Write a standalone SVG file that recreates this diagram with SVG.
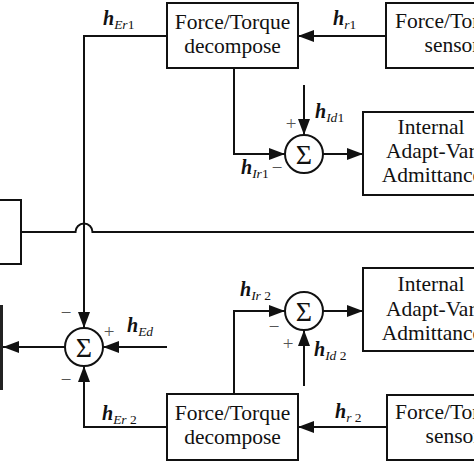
<svg xmlns="http://www.w3.org/2000/svg" width="474" height="474" viewBox="0 0 474 474">
<defs>
<style>
.box{fill:#fff;stroke:#111;stroke-width:2}
.ln{fill:none;stroke:#111;stroke-width:2}
.t{font-family:"Liberation Serif","Times New Roman",serif;font-size:21.5px;fill:#111}
.m{text-anchor:middle}
.sig{font-family:"Liberation Serif","Times New Roman",serif;font-size:28px;fill:#111;text-anchor:middle}
.lbl{font-family:"Liberation Serif","Times New Roman",serif;fill:#111}
.h{font-size:20px;font-weight:bold;font-style:italic}
.s{font-size:13.5px;font-style:italic}
.n{font-size:13.5px}
.pm{font-family:"Liberation Serif","Times New Roman",serif;font-size:19px;fill:#555;text-anchor:middle}
</style>
<marker id="ah" viewBox="0 0 16 12" refX="16" refY="6" markerWidth="16" markerHeight="12" markerUnits="userSpaceOnUse" orient="auto">
<path d="M0,0 L16,6 L0,12 Z" fill="#111"/>
</marker>
</defs>
<rect width="474" height="474" fill="#fff"/>

<g id="connectors">
<path class="ln" d="M167,36 H84 V328" marker-end="url(#ah)"/>
<path class="ln" d="M22,232 H75.5 A8.5,8.5 0 0 1 92.5,232 H474"/>
<path class="ln" d="M386,36 H298" marker-end="url(#ah)"/>
<path class="ln" d="M234,68 V154 H285" marker-end="url(#ah)"/>
<path class="ln" d="M304,85 V135" marker-end="url(#ah)"/>
<path class="ln" d="M323,154 H363" marker-end="url(#ah)"/>
<path class="ln" d="M65,347 H3" marker-end="url(#ah)"/>
<path class="ln" d="M167,347 H103" marker-end="url(#ah)"/>
<path class="ln" d="M167,427 H84 V366" marker-end="url(#ah)"/>
<path class="ln" d="M234,394 V311 H285" marker-end="url(#ah)"/>
<path class="ln" d="M304,386 V330" marker-end="url(#ah)"/>
<path class="ln" d="M323,311 H363" marker-end="url(#ah)"/>
<path class="ln" d="M387,427 H298" marker-end="url(#ah)"/>
</g>

<g id="left-box-top"><rect class="box" x="-10" y="200" width="31" height="64"/></g>
<g id="left-box-bottom"><rect x="0" y="305" width="3" height="85" fill="#222"/></g>

<g id="decompose1">
<rect class="box" x="167" y="3" width="131" height="65"/>
<text class="t m" x="232.5" y="29">Force/Torque</text>
<text class="t m" x="232.5" y="53">decompose</text>
</g>
<g id="sensor1">
<rect class="box" x="386" y="3" width="130" height="65"/>
<text class="t" x="395" y="28">Force/Torque</text>
<text class="t m" x="452" y="52">sensor</text>
</g>
<g id="internal1">
<rect class="box" x="363" y="112" width="140" height="83"/>
<text class="t m" x="431" y="134">Internal</text>
<text class="t" x="386" y="158">Adapt-Variable</text>
<text class="t m" x="432" y="182">Admittance</text>
</g>
<g id="sum1">
<circle class="box" cx="304" cy="154" r="19"/>
<text class="sig" x="304" y="164">Σ</text>
</g>

<g id="sum2">
<circle class="box" cx="84" cy="347" r="19"/>
<text class="sig" x="84" y="357">Σ</text>
</g>

<g id="decompose2">
<rect class="box" x="167" y="394" width="131" height="66"/>
<text class="t m" x="232.5" y="420">Force/Torque</text>
<text class="t m" x="232.5" y="444">decompose</text>
</g>
<g id="sensor2">
<rect class="box" x="387" y="395" width="130" height="65"/>
<text class="t" x="395" y="419">Force/Torque</text>
<text class="t m" x="453" y="443">sensor</text>
</g>
<g id="internal2">
<rect class="box" x="363" y="268" width="140" height="83"/>
<text class="t m" x="431" y="291">Internal</text>
<text class="t" x="386" y="316">Adapt-Variable</text>
<text class="t m" x="432" y="340">Admittance</text>
</g>
<g id="sum3">
<circle class="box" cx="304" cy="311" r="19"/>
<text class="sig" x="304" y="321">Σ</text>
</g>

<g id="labels">
<text class="lbl" x="103" y="25"><tspan class="h">h</tspan><tspan class="s" dy="4">Er</tspan><tspan class="n">1</tspan></text>
<text class="lbl" x="333" y="25"><tspan class="h">h</tspan><tspan class="s" dy="4">r</tspan><tspan class="n">1</tspan></text>
<text class="lbl" x="315" y="118"><tspan class="h">h</tspan><tspan class="s" dy="4">Id</tspan><tspan class="n">1</tspan></text>
<text class="lbl" x="241" y="174"><tspan class="h">h</tspan><tspan class="s" dy="4">Ir</tspan><tspan class="n">1</tspan></text>
<text class="lbl" x="127" y="332"><tspan class="h">h</tspan><tspan class="s" dy="4">Ed</tspan></text>
<text class="lbl" x="102" y="420"><tspan class="h">h</tspan><tspan class="s" dy="4">Er</tspan><tspan class="n"> 2</tspan></text>
<text class="lbl" x="240" y="296"><tspan class="h">h</tspan><tspan class="s" dy="4">Ir</tspan><tspan class="n"> 2</tspan></text>
<text class="lbl" x="314" y="356"><tspan class="h">h</tspan><tspan class="s" dy="4">Id</tspan><tspan class="n"> 2</tspan></text>
<text class="lbl" x="335" y="418"><tspan class="h">h</tspan><tspan class="s" dy="4">r</tspan><tspan class="n"> 2</tspan></text>
<text class="pm" x="291" y="130">+</text>
<text class="pm" x="277" y="174">−</text>
<text class="pm" x="66" y="319">−</text>
<text class="pm" x="109" y="338">+</text>
<text class="pm" x="66" y="386">−</text>
<text class="pm" x="274" y="333">−</text>
<text class="pm" x="288" y="350">+</text>
</g>
</svg>
